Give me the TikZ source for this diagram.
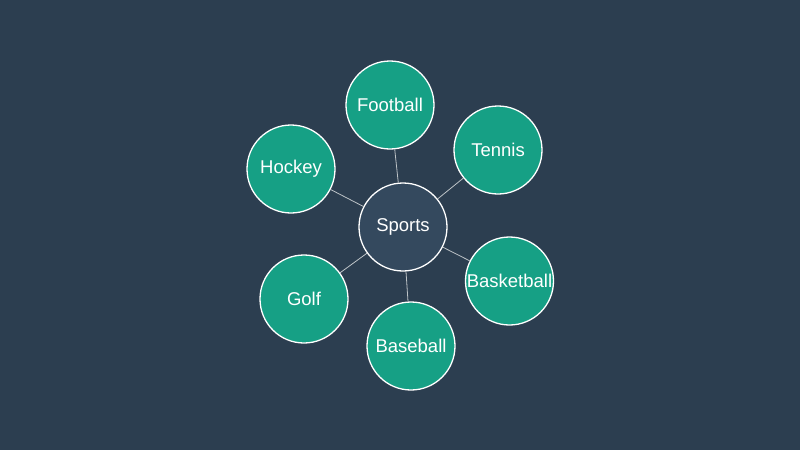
\documentclass[tikz,border=0pt]{standalone}
\usepackage{fontspec}
\setmainfont{Liberation Sans}
\definecolor{bg}{HTML}{2C3E50}
\definecolor{hub}{HTML}{34495E}
\definecolor{leaf}{HTML}{16A085}
\definecolor{edge}{HTML}{BDC3C7}
\tikzset{
  hubnode/.style={circle, draw=white, line width=1.3pt, fill=hub, minimum size=88pt, inner sep=0pt, text=white, font=\fontsize{18.5}{20}\selectfont},
  leafnode/.style={circle, draw=white, line width=1.3pt, fill=leaf, minimum size=88pt, inner sep=0pt, text=white, font=\fontsize{18.5}{20}\selectfont},
  link/.style={draw=edge, line width=0.8pt}
}
\begin{document}
\begin{tikzpicture}[x=1pt,y=-1pt]
\fill[bg] (0,0) rectangle (800,450);
\useasboundingbox (0,0) rectangle (800,450);
\node[hubnode] (s) at (403,227) {Sports};
\node[leafnode] (fb) at (390,105) {Football};
\node[leafnode] (te) at (498,150) {Tennis};
\node[leafnode] (bk) at (509.5,281) {Basketball};
\node[leafnode] (bs) at (411,346) {Baseball};
\node[leafnode] (go) at (304,299) {Golf};
\node[leafnode] (ho) at (291,169) {Hockey};
\foreach \n in {fb,te,bk,bs,go,ho}{\draw[link] (s) -- (\n);}
\end{tikzpicture}
\end{document}
